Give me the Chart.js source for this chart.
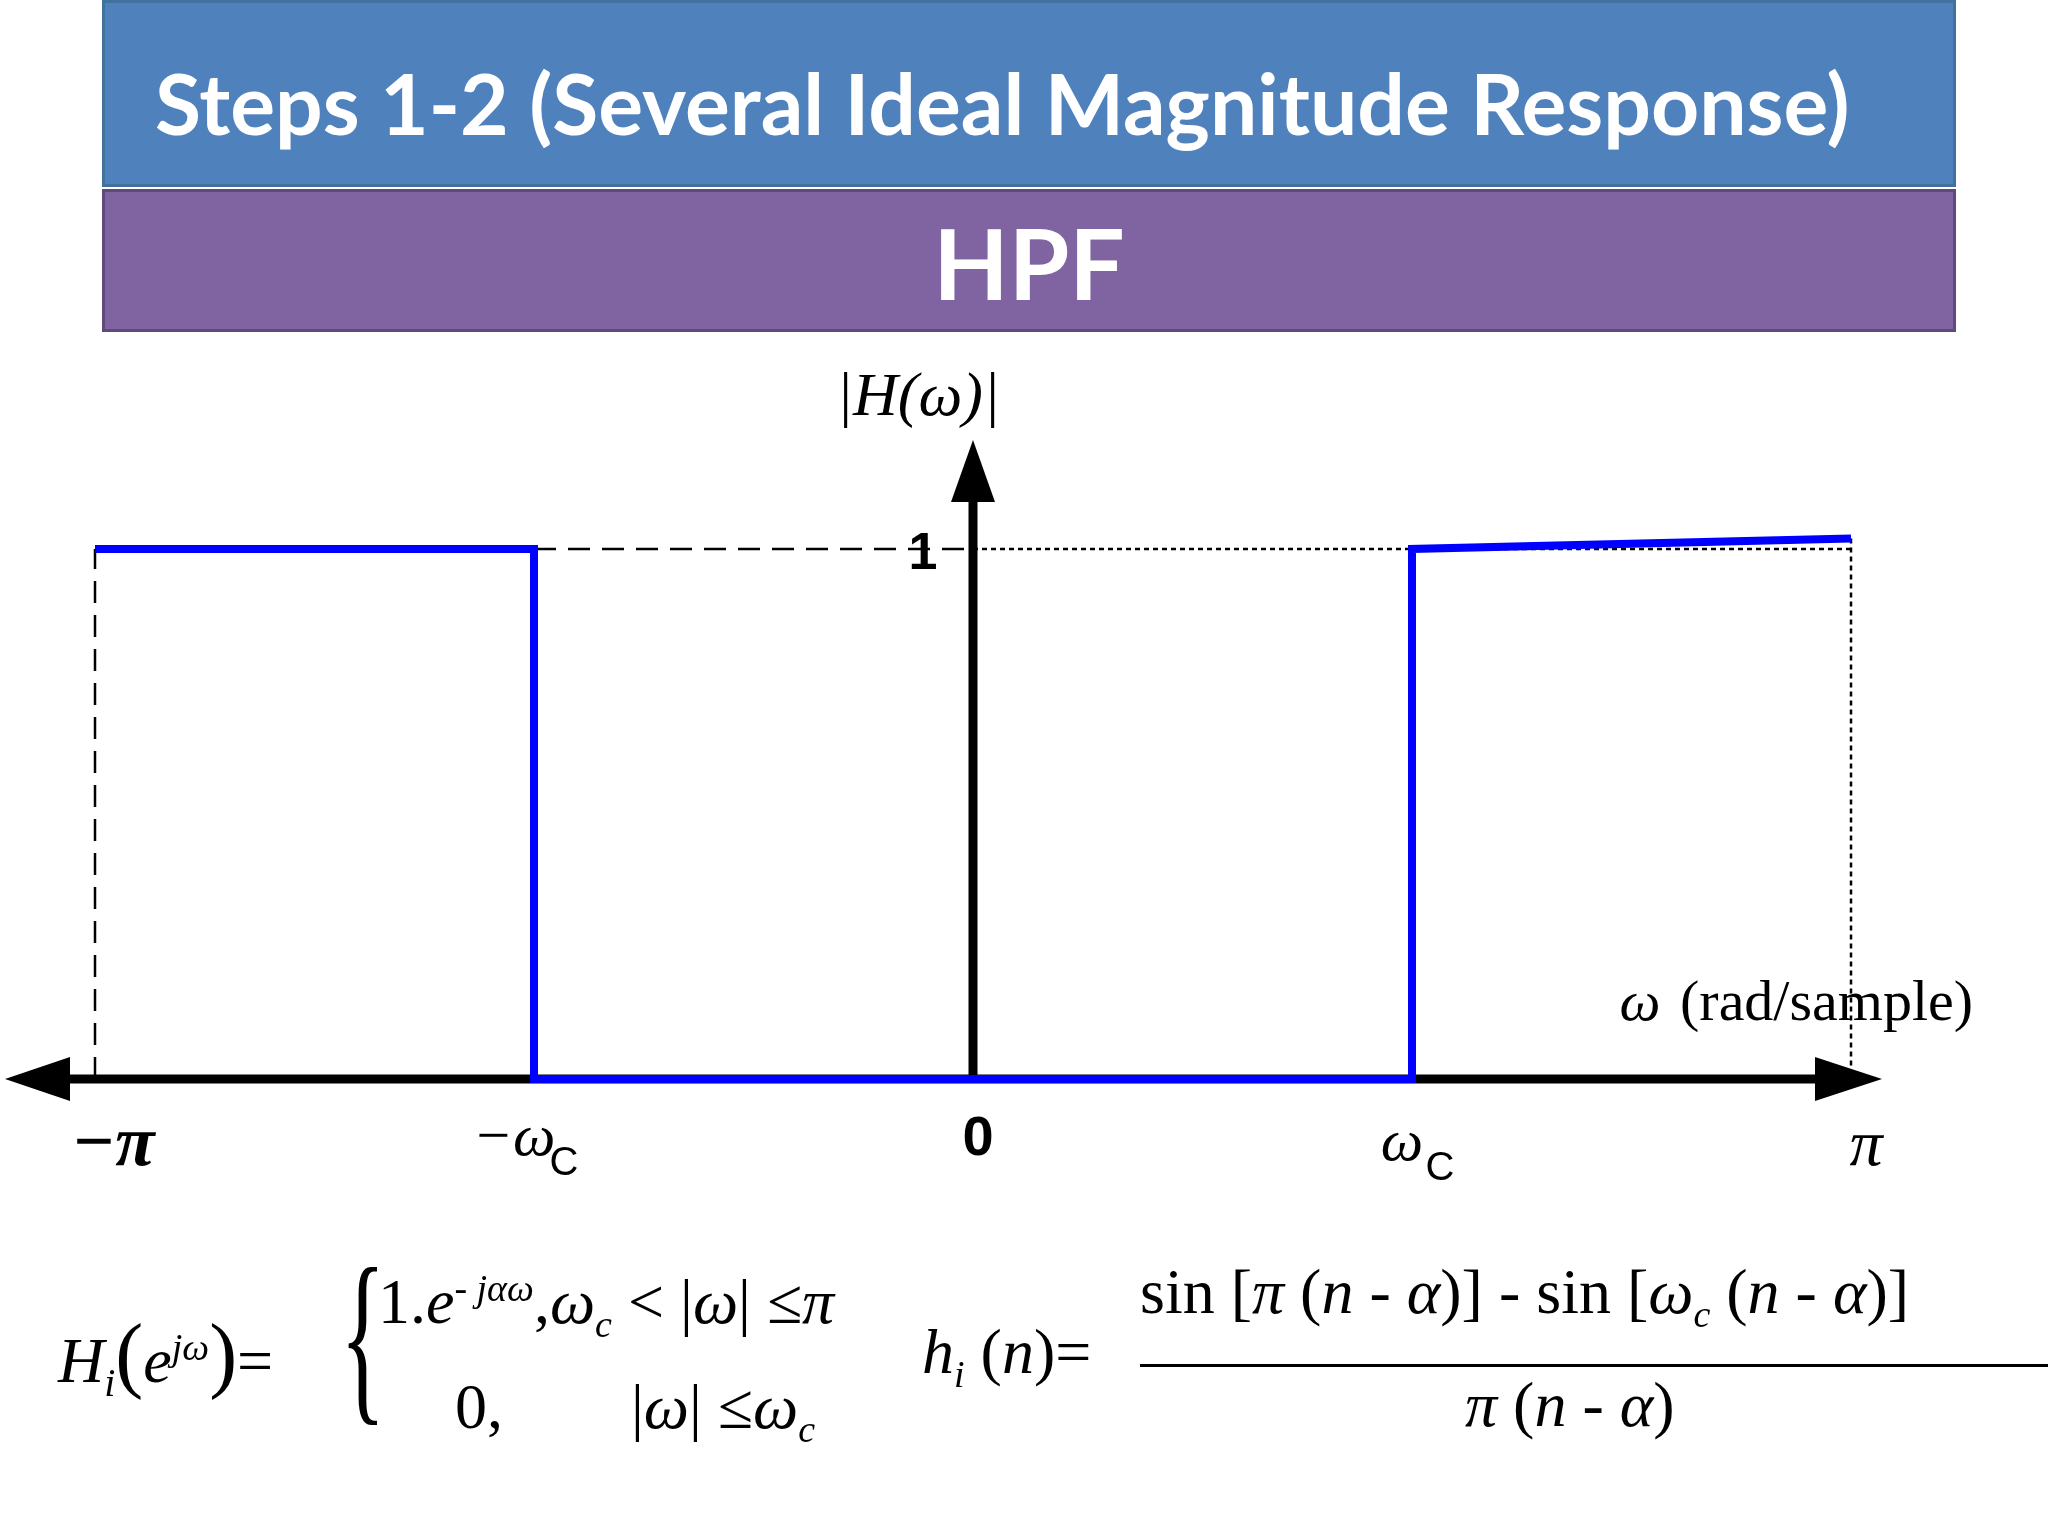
<!DOCTYPE html>
<html><head><meta charset="utf-8">
<script src="https://cdn.jsdelivr.net/npm/chart.js@4"></script>
<style>
body{margin:0;width:2048px;height:1536px;background:#fff;overflow:hidden;font-family:Lato,sans-serif;position:relative}
.hd{position:absolute;left:102px;width:1854px;color:#fff;font-weight:bold;text-align:center;box-sizing:border-box}
#t1{top:0;height:187px;background:#4f81bd;border:3px solid #41719c;font-size:84px;line-height:200px;text-align:left;padding-left:50px}
#t2{top:189px;height:143px;background:#8064a2;border:3px solid #5f4a7a;font-size:98px;line-height:140px}
canvas{position:absolute;left:0;top:0}
.f{position:absolute;font-family:"Liberation Serif",serif;font-size:64px;color:#000;white-space:nowrap}
i{font-style:italic}
</style></head><body>
<div class="hd" id="t1">Steps 1-2 (Several Ideal Magnitude Response)</div>
<div class="hd" id="t2">HPF</div>
<canvas id="c" width="2048" height="1536"></canvas>
<div class="f" style="left:58px;top:1305px"><i>H<sub style="font-size:40px">i</sub></i><span style="font-size:84px">(</span><i>e<sup style="font-size:38px">jω</sup></i><span style="font-size:84px">)</span>=</div>
<div class="f" style="left:340px;top:1225px;font-size:190px;line-height:220px;transform:scaleX(0.5);transform-origin:left">{</div>
<div class="f" style="left:378px;top:1265px">1.<i>e</i><sup style="font-size:38px">- <i>jαω</i></sup>,<i>ω<sub style="font-size:38px">c</sub></i> &lt; |<i>ω</i>| ≤<i>π</i></div>
<div class="f" style="left:455px;top:1370px">0,&nbsp;&nbsp;&nbsp;&nbsp;&nbsp;&nbsp;&nbsp;&nbsp;|<i>ω</i>| ≤<i>ω<sub style="font-size:38px">c</sub></i></div>
<div class="f" style="left:922px;top:1315px"><i>h<sub style="font-size:38px">i</sub></i> (<i>n</i>)=</div>
<div class="f" style="left:1140px;top:1255px">sin [<i>π</i> (<i>n</i> - <i>α</i>)] - sin [<i>ω<sub style="font-size:38px">c</sub></i> (<i>n</i> - <i>α</i>)]</div>
<div style="position:absolute;left:1140px;top:1364px;width:908px;height:3px;background:#000"></div>
<div class="f" style="left:1465px;top:1368px"><i>π</i> (<i>n</i> - <i>α</i>)</div>
<script>
const PI=Math.PI, WC=PI/2;
const freq=[-PI,-WC,-WC,WC,WC,PI];
const mag=[1,1,0,0,1,1.02];
const tickVals=[-PI,-WC,0,WC,PI];
const tickLabels=["−π","−ωC","0","ωC","π"];
const deco={id:'deco',beforeDatasetsDraw(ch){
 const c=ch.ctx,x=ch.scales.x,y=ch.scales.y;
 const X=v=>x.getPixelForValue(v),Y=v=>y.getPixelForValue(v);
 c.save();c.strokeStyle='#000';c.lineWidth=2.5;
 const ln=(a,b,cc,d,dash)=>{c.setLineDash(dash);c.beginPath();c.moveTo(a,b);c.lineTo(cc,d);c.stroke();};
 ln(X(-PI),Y(0),X(-PI),Y(1),[22,12]);
 ln(X(-WC),Y(1),X(0),Y(1),[22,12]);
 ln(X(0),Y(1),X(PI),Y(1),[5,4]);
 ln(X(PI),Y(1.02),X(PI),Y(0),[5,4]);
 c.setLineDash([]);c.lineWidth=9;
 ln(37,Y(0),1850,Y(0),[]);
 ln(X(0),Y(0),X(0),490,[]);
 c.fillStyle='#000';
 c.beginPath();c.moveTo(5,Y(0));c.lineTo(70,Y(0)-22);c.lineTo(70,Y(0)+22);c.fill();
 c.beginPath();c.moveTo(1882,Y(0));c.lineTo(1815,Y(0)-22);c.lineTo(1815,Y(0)+22);c.fill();
 c.beginPath();c.moveTo(X(0),440);c.lineTo(X(0)-22,502);c.lineTo(X(0)+22,502);c.fill();
 c.font='bold 52px Arial';c.textAlign='center';c.fillText('1',X(0)-50,Y(1)+20);
 c.font='bold 56px Arial';c.fillText('0',X(0)+5,1155);
 c.font='bold italic 72px "Liberation Serif"';c.fillText('−π',X(-PI)+18,1165);
 c.font='italic 66px "Liberation Serif"';c.fillText('π',X(PI)+15,1165);
 c.font='italic 60px "Liberation Serif"';c.fillText('−ω',X(-WC)-20,1155);c.fillText('ω',X(WC)-10,1160);
 c.font='40px Arial';c.fillText('C',X(-WC)+30,1175);c.fillText('C',X(WC)+28,1180);
 c.font='italic 58px "Liberation Serif"';c.fillText('ω',1640,1020);
 c.font='58px "Liberation Serif"';c.textAlign='left';c.fillText('(rad/sample)',1680,1020);
 c.textAlign='center';c.font='italic 62px "Liberation Serif"';c.fillText('|H(ω)|',918,415);
 c.restore();}};
new Chart(document.getElementById('c'),{type:'line',
 data:{datasets:[{data:freq.map((f,i)=>({x:f,y:mag[i]})),borderColor:'#0000ff',borderWidth:8,pointRadius:0,tension:0,fill:false,clip:false}]},
 options:{responsive:false,animation:false,layout:{padding:{left:95,right:197,top:549,bottom:457}},
  plugins:{legend:{display:false},tooltip:{enabled:false}},
  scales:{x:{type:'linear',min:-PI,max:PI,display:false,ticks:{callback:(v)=>{const i=tickVals.indexOf(v);return i<0?'':tickLabels[i];}}},
          y:{min:0,max:1,display:false}}},
 plugins:[deco]});
</script></body></html>
